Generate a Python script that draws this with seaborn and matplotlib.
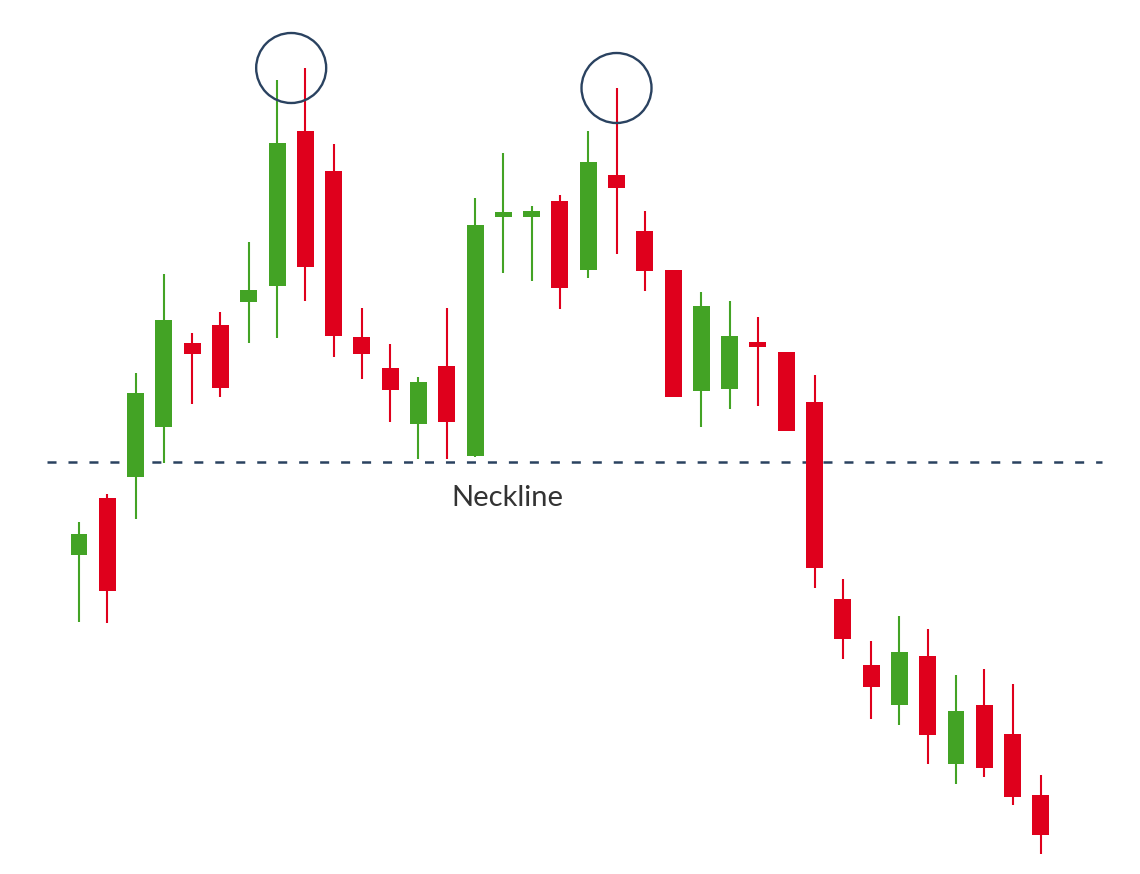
import numpy as np
import pandas as pd
from matplotlib import pyplot as plt
import seaborn as sns

# candle data (arbitrary price units)
opens = [31.9, 37.6, 39.7, 44.7, 53.1, 54.9, 57.2, 58.8, 74.3, 70.3,
         53.7, 50.6, 45.0, 50.8, 41.8, 65.7, 65.7, 67.3, 60.4, 69.9,
         64.3, 60.4, 48.3, 48.5, 53.2, 52.2, 47.2, 27.5, 20.9, 16.9,
         21.8, 11.0, 16.9, 14.0, 7.9]
highs = [35.2, 38.0, 50.1, 60.0, 54.1, 56.2, 63.2, 79.4, 80.6, 73.0,
         56.6, 53.0, 49.7, 56.6, 67.6, 72.1, 66.8, 67.9, 74.3, 78.6,
         66.3, 60.4, 58.2, 57.3, 55.7, 52.2, 49.9, 29.5, 23.3, 25.8,
         24.5, 19.9, 20.5, 19.0, 9.9]
lows = [25.2, 25.1, 35.5, 41.1, 47.0, 47.7, 53.1, 53.6, 57.3, 51.7,
        49.5, 45.2, 41.5, 41.5, 41.7, 60.1, 59.3, 56.5, 59.6, 62.0,
        58.3, 47.7, 44.7, 46.5, 46.8, 44.3, 28.6, 21.5, 15.5, 14.9,
        11.0, 9.0, 9.7, 6.9, 2.0]
closes = [34.0, 28.3, 48.1, 55.4, 52.0, 48.6, 58.4, 73.1, 60.7, 53.8,
          52.0, 48.4, 49.2, 45.2, 64.9, 66.2, 66.3, 58.6, 71.2, 68.6,
          60.3, 47.7, 56.8, 53.8, 52.7, 44.3, 30.6, 23.5, 18.7, 22.2,
          13.9, 16.3, 10.6, 7.7, 3.9]

neckline = 41.2
neckline_label = 'Neckline'
# the two tops that get circled (candle positions)
top_positions = [7.5, 19]

GREEN = '#43a325'
RED = '#df001c'
NAVY = '#2a4260'

df = pd.DataFrame({'open': opens, 'high': highs, 'low': lows, 'close': closes})
df['x'] = np.arange(len(df))
df['up'] = df['close'] >= df['open']
df['color'] = np.where(df['up'], GREEN, RED)
df['bottom'] = df[['open', 'close']].min(axis=1)
df['body'] = (df['close'] - df['open']).abs()

sns.set_theme(style='white')
plt.rcParams['font.family'] = ['Lato', 'DejaVu Sans']
plt.rcParams['lines.scale_dashes'] = False

fig = plt.figure(figsize=(11.4, 8.74), dpi=100)
ax = fig.add_axes([0, 0, 1, 1])

# wicks, then bodies on top
ax.vlines(df['x'], df['low'], df['high'], colors=df['color'], linewidth=1.5, zorder=2)
ax.bar(df['x'], df['body'], bottom=df['bottom'], width=0.6, color=df['color'],
       linewidth=0, zorder=3)

# neckline
ax.hlines(neckline, -1.13, 36.16, colors=NAVY, linewidth=1.8,
          linestyles=(0, (6.5, 8.6)), zorder=1)
ax.text(15.15, neckline - 4.4, neckline_label, ha='center', va='baseline',
        fontsize=21, color='#333333')

# circles round the two tops
top_y = [max(highs[7], highs[8]), highs[19]]
ax.scatter(top_positions, top_y, s=2540, facecolors='none', edgecolors=NAVY,
           linewidths=1.7, zorder=4)

ax.set_xlim(-79 / 28.29, (1140 - 79) / 28.29)
ax.set_ylim(0, 87.4)
ax.axis('off')

fig.savefig('out.png', dpi=100, facecolor='white')
